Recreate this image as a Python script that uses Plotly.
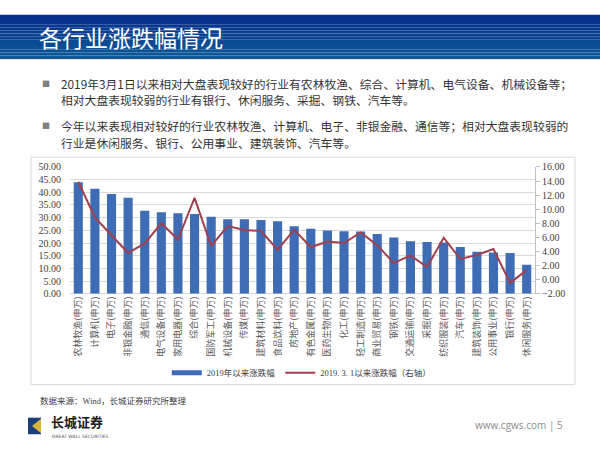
import plotly.graph_objects as go

# ---------------- data ----------------
categories = ["农林牧渔", "计算机", "电子", "非银金融", "通信", "电气设备", "家用电器", "综合",
              "国防军工", "机械设备", "传媒", "建筑材料", "食品饮料", "房地产", "有色金属", "医药生物",
              "化工", "轻工制造", "商业贸易", "钢铁", "交通运输", "采掘", "纺织服装", "汽车",
              "建筑装饰", "公用事业", "银行", "休闲服务"]
tick_labels = [c + "(申万)" for c in categories]

ytd_change = [44.0, 41.4, 39.3, 37.9, 32.7, 32.1, 31.7, 31.4, 30.4, 29.4, 29.4, 29.1, 28.6, 26.6,
              25.6, 24.9, 24.6, 24.5, 23.6, 22.2, 20.7, 20.4, 20.2, 18.4, 16.6, 16.3, 16.1, 11.4]
since_mar1_change = [13.9, 8.85, 6.3, 3.8, 5.15, 8.0, 5.7, 11.6, 4.8, 7.6, 7.05, 6.9, 4.25, 7.1,
                     4.6, 5.4, 5.2, 6.7, 4.9, 2.35, 3.45, 1.8, 5.95, 2.95, 3.5, 4.35, -0.45, 1.35]

bar_name = "2019年以来涨跌幅"
line_name = "2019. 3. 1以来涨跌幅（右轴）"

title_text = "各行业涨跌幅情况"
para_lines = [
    "2019年3月1日以来相对大盘表现较好的行业有农林牧渔、综合、计算机、电气设备、机械设备等；",
    "相对大盘表现较弱的行业有银行、休闲服务、采掘、钢铁、汽车等。",
    "今年以来表现相对较好的行业农林牧渔、计算机、电子、非银金融、通信等；相对大盘表现较弱的",
    "行业是休闲服务、银行、公用事业、建筑装饰、汽车等。",
]
source_text = "数据来源：Wind，长城证券研究所整理"
site_text = "www.cgws.com | 5"
logo_cn = "长城证券"
logo_en = "GREAT WALL SECURITIES"

# ---------------- styles ----------------
W, H = 600, 450
BAR_COLOR = "#3F6DB5"
LINE_COLOR = "#A0404E"
CJK = "Noto Sans CJK SC"
SERIF = "Liberation Serif, Noto Sans CJK SC"


def px(x):
    return x / W


def py(y):
    return 1 - y / H


fig = go.Figure()
fig.add_bar(x=tick_labels, y=ytd_change, marker_color=BAR_COLOR, marker_line_width=0,
            showlegend=False, name=bar_name, yaxis="y")
# legend proxy so the bar series shows as a thick stroke like the original legend
fig.add_scatter(x=[None], y=[None], mode="lines", line=dict(color=BAR_COLOR, width=5),
                name=bar_name, yaxis="y")
fig.add_scatter(x=tick_labels, y=since_mar1_change, mode="lines",
                line=dict(color=LINE_COLOR, width=2), name=line_name, yaxis="y2")

shapes = []
# title band gradient
n = 14
c0 = (8, 46, 142)
c1 = (12, 90, 152)
y_top, y_bot = 10, 55
for i in range(n):
    t = i / (n - 1)
    col = tuple(int(c0[k] + (c1[k] - c0[k]) * t) for k in range(3))
    ya = y_top + (y_bot - y_top) * i / n
    yb = y_top + (y_bot - y_top) * (i + 1) / n
    shapes.append(dict(type="rect", xref="paper", yref="paper", x0=0, x1=1,
                       y0=py(yb), y1=py(ya), fillcolor="rgb(%d,%d,%d)" % col,
                       line_width=0, layer="below"))
shapes.append(dict(type="line", xref="paper", yref="paper", x0=0, x1=1, y0=py(55), y1=py(55),
                   line=dict(color="#1d4c7c", width=1)))
# chart frame
shapes.append(dict(type="rect", xref="paper", yref="paper", x0=px(31), x1=px(575),
                   y0=py(389), y1=py(156), line=dict(color="#d9d9d9", width=1),
                   fillcolor="rgba(0,0,0,0)", layer="below"))
# logo icon
shapes.append(dict(type="rect", xref="paper", yref="paper", x0=px(28), x1=px(41),
                   y0=py(440), y1=py(423), fillcolor="#1d3f7c", line_width=0))
shapes.append(dict(type="path", xref="paper", yref="paper",
                   path="M %f %f L %f %f L %f %f Z" % (px(41), py(424), px(32), py(431.5), px(41), py(439)),
                   fillcolor="#d8b23a", line_width=0))

annotations = [
    dict(text=title_text, x=px(37), y=py(33), xref="paper", yref="paper", xanchor="left",
         yanchor="middle", showarrow=False, font=dict(family=CJK, size=23, color="white")),
    dict(text=source_text, x=px(38), y=py(406), xref="paper", yref="paper", xanchor="left",
         yanchor="middle", showarrow=False, font=dict(family=SERIF, size=8.5, color="#404040")),
    dict(text=site_text, x=px(565), y=py(431), xref="paper", yref="paper", xanchor="right",
         yanchor="middle", showarrow=False, font=dict(family="Open Sans", size=10, color="#8c8c8c")),
    dict(text="<b>" + logo_cn + "</b>", x=px(49), y=py(427), xref="paper", yref="paper",
         xanchor="left", yanchor="middle", showarrow=False,
         font=dict(family=CJK, size=13, color="#1a1a1a")),
    dict(text=logo_en, x=px(50), y=py(442), xref="paper", yref="paper", xanchor="left",
         yanchor="middle", showarrow=False, font=dict(family="DejaVu Sans", size=4.5, color="#555")),
]
para_y = [80, 97, 124, 141]
for txt, yy in zip(para_lines, para_y):
    annotations.append(dict(text=txt, x=px(59), y=py(yy), xref="paper", yref="paper",
                            xanchor="left", yanchor="middle", showarrow=False,
                            font=dict(family=CJK, size=11.8, color="#333333")))
for yy in (para_y[0], para_y[2]):
    annotations.append(dict(text="■", x=px(40), y=py(yy), xref="paper", yref="paper",
                            xanchor="left", yanchor="middle", showarrow=False,
                            font=dict(family=CJK, size=8, color="#7f7f7f")))

fig.update_layout(
    width=W, height=H, margin=dict(l=0, r=0, t=0, b=0),
    paper_bgcolor="white", plot_bgcolor="white",
    bargap=0.45,
    showlegend=True,
    legend=dict(orientation="h", x=0.503, y=py(377), xanchor="center", yanchor="middle",
                font=dict(family=SERIF, size=8.5, color="#404040"), itemwidth=30,
                bgcolor="rgba(0,0,0,0)"),
    xaxis=dict(domain=[px(70), px(535)], type="category", tickangle=-90,
               tickfont=dict(family=CJK, size=9, color="#595959"), showgrid=False,
               showline=False, ticks="", anchor="y"),
    yaxis=dict(domain=[py(296), py(166)], range=[0, 50], dtick=5, tick0=0, tickformat=".2f",
               gridcolor="#d9d9d9", gridwidth=1, zeroline=True, zerolinecolor="#d9d9d9",
               zerolinewidth=1, showline=False, ticks="", ticklabelstandoff=8,
               tickfont=dict(family=SERIF, size=10, color="#404040"), anchor="x"),
    yaxis2=dict(overlaying="y", side="right", anchor="x", range=[-2, 16], dtick=2, tick0=0,
                tickformat=".2f", showgrid=False, zeroline=False, showline=True,
                linecolor="#bfbfbf", linewidth=1, ticks="outside", ticklen=4,
                tickcolor="#bfbfbf", tickfont=dict(family=SERIF, size=10, color="#404040")),
    shapes=shapes,
    annotations=annotations,
)

fig.write_html("out.html")
